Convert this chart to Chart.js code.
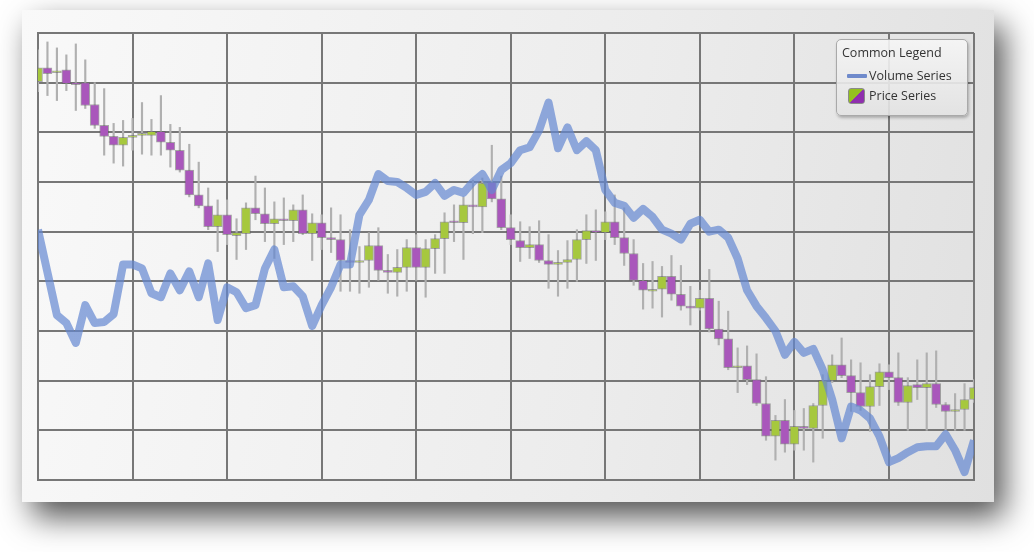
<!DOCTYPE html>
<html>
<head>
<meta charset="utf-8">
<script src="https://cdn.jsdelivr.net/npm/chart.js@4/dist/chart.umd.min.js"></script>
<style>
    html, body { margin: 0; padding: 0; background: #fff; }
    #stage { position: relative; width: 1034px; height: 552px; overflow: hidden; }
    #panel {
        position: absolute; left: 22px; top: 10px; width: 972px; height: 492px;
        background: linear-gradient(100deg, #f9f9f9 0%, #ececec 60%, #e0e0e0 100%);
        box-shadow: 10px 15px 30px rgba(0, 0, 0, 0.68);
    }
    #chart { position: absolute; left: 0; top: 0; }
    #legend {
        position: absolute; left: 836px; top: 39px; width: 130px; height: 75px;
        border: 1px solid #a9a9a9; border-radius: 5px;
        background: linear-gradient(180deg, rgba(245,245,245,0.9), rgba(226,226,226,0.9));
        box-shadow: 1px 2px 3px rgba(0, 0, 0, 0.25);
        font-family: "Open Sans", "Noto Sans", sans-serif; font-size: 12.5px; color: #333;
    }
    #legend .title { position: absolute; left: 5px; top: 5px; line-height: 16px; white-space: nowrap; }
    #legend .item { position: absolute; left: 0; height: 20px; line-height: 20px; white-space: nowrap; }
    #legend .item span.text { position: absolute; left: 32px; top: 0; }
    #legend .swatch-line { position: absolute; left: 10px; top: 8px; width: 20px; height: 4px; background: #6f8acb; border-radius: 1px; }
    #legend .swatch-box {
        position: absolute; left: 11px; top: 2px; width: 17px; height: 16px; border-radius: 3px;
        border: 1px solid #8a8a8a; box-sizing: border-box;
        background: linear-gradient(to bottom right, #94c020 50%, #8f2fae 50%);
    }
</style>
</head>
<body>
<div id="stage">
    <div id="panel"></div>
    <canvas id="chart" width="1034" height="552"></canvas>
    <div id="legend">
        <div class="title">Common Legend</div>
    </div>
</div>
<script>
// 交易日序号（类目轴）
const days = Array.from({ length: 100 }, (_, i) => i + 1);

// 价格（开 / 高 / 低 / 收）
const openPrices = [
    401, 415, 410, 413, 400, 400, 378, 357, 346, 337,
    345, 347, 347, 351, 340, 332, 312, 287, 276, 255,
    267, 246, 248, 274, 268, 258, 263, 261, 272, 248,
    259, 244, 242, 221, 219, 221, 236, 211, 209, 214,
    234, 214, 233, 243, 261, 259, 277, 275, 300, 283,
    254, 241, 234, 237, 221, 217, 219, 222, 242, 251,
    249, 260, 244, 228, 201, 190, 192, 205, 187, 175,
    173, 183, 152, 142, 113, 115, 101, 77, 44, 60,
    36, 54, 52, 75, 100, 116, 105, 88, 74, 94,
    109, 103, 78, 96, 93, 97, 76, 69, 71, 81
];
const highPrices = [
    433, 441, 435, 428, 439, 423, 400, 394, 359, 362,
    364, 380, 363, 387, 358, 355, 338, 320, 294, 282,
    282, 263, 279, 306, 294, 280, 284, 277, 287, 268,
    267, 274, 267, 252, 235, 249, 254, 227, 232, 242,
    247, 242, 247, 269, 277, 285, 302, 304, 337, 306,
    267, 260, 255, 261, 247, 231, 241, 252, 267, 272,
    270, 287, 274, 242, 218, 220, 215, 226, 216, 195,
    191, 212, 180, 170, 133, 135, 127, 104, 65, 81,
    70, 72, 77, 106, 126, 143, 121, 118, 106, 117,
    116, 128, 103, 121, 128, 130, 78, 87, 97, 101
];
const lowPrices = [
    391, 387, 382, 392, 372, 374, 354, 327, 319, 316,
    332, 328, 327, 327, 315, 310, 285, 274, 252, 230,
    237, 222, 232, 262, 240, 223, 237, 240, 247, 221,
    232, 229, 190, 190, 188, 194, 201, 188, 185, 190,
    201, 184, 208, 208, 240, 222, 248, 249, 280, 252,
    237, 220, 223, 219, 193, 185, 193, 200, 218, 221,
    242, 237, 216, 196, 172, 173, 164, 181, 171, 156,
    171, 149, 136, 111, 88, 96, 75, 40, 20, 28,
    30, 30, 18, 42, 98, 103, 69, 70, 49, 75,
    91, 75, 50, 81, 50, 73, 50, 50, 50, 78
];
const closePrices = [
    415, 409, 412, 399, 398, 377, 357, 346, 337, 345,
    347, 349, 351, 340, 332, 312, 287, 276, 255, 267,
    247, 249, 274, 268, 258, 263, 261, 272, 248, 259,
    244, 242, 221, 219, 221, 236, 211, 209, 214, 234,
    214, 233, 243, 260, 259, 277, 275, 299, 283, 254,
    242, 234, 237, 221, 217, 219, 222, 242, 251, 249,
    260, 244, 228, 201, 191, 192, 205, 187, 175, 173,
    183, 152, 142, 113, 115, 101, 77, 44, 60, 36,
    54, 52, 75, 100, 116, 105, 88, 74, 94, 109,
    103, 78, 95, 93, 97, 76, 69, 71, 81, 93
];

// 成交量
const volumeSeries = [
    252, 209, 166, 158, 138, 176, 158, 159, 167, 217,
    217, 213, 188, 184, 208, 191, 210, 184, 218, 161,
    194, 189, 173, 176, 213, 232, 194, 195, 185, 155,
    176, 194, 217, 217, 267, 282, 308, 301, 300, 294,
    287, 290, 299, 286, 292, 289, 300, 308, 292, 312,
    319, 332, 335, 352, 380, 334, 355, 332, 341, 332,
    292, 279, 276, 264, 273, 265, 252, 248, 242, 258,
    262, 250, 252, 244, 223, 191, 175, 163, 150, 126,
    139, 128, 132, 111, 81, 42, 74, 70, 62, 44,
    18, 22, 28, 33, 34, 34, 46, 30, 8, 40
];

const seriesNames = ['Volume Series', 'Price Series'];

const colors = {
    up: '#a6c83e',
    down: '#a957bb',
    bodyBorder: 'rgba(90, 90, 90, 0.5)',
    wick: '#b0b0b0',
    volume: 'rgba(100, 135, 210, 0.7)',
    grid: '#777777'
};

const bodyColors = openPrices.map((o, i) => closePrices[i] >= o ? colors.up : colors.down);

const ctx = document.getElementById('chart');

new Chart(ctx, {
    type: 'bar',
    data: {
        labels: days,
        datasets: [
            {
                type: 'line',
                label: seriesNames[0],
                data: volumeSeries,
                yAxisID: 'yVolume',
                borderColor: colors.volume,
                borderWidth: 8,
                borderJoinStyle: 'round',
                pointRadius: 0,
                tension: 0,
                clip: 0,
                order: 0
            },
            {
                label: seriesNames[1],
                data: openPrices.map((o, i) => [o, closePrices[i]]),
                backgroundColor: bodyColors,
                borderColor: colors.bodyBorder,
                borderWidth: 1,
                borderSkipped: false,
                minBarLength: 2,
                grouped: false,
                barThickness: 9,
                clip: 0,
                order: 1
            },
            {
                label: seriesNames[1] + ' range',
                data: lowPrices.map((l, i) => [l, highPrices[i]]),
                backgroundColor: colors.wick,
                borderWidth: 0,
                barThickness: 1.5,
                grouped: false,
                clip: 0,
                order: 2
            }
        ]
    },
    options: {
        responsive: false,
        animation: false,
        events: [],
        layout: {
            padding: { left: 38, top: 33, right: 60, bottom: 72 }
        },
        plugins: {
            legend: { display: false },
            tooltip: { enabled: false }
        },
        scales: {
            x: {
                type: 'category',
                offset: false,
                ticks: { display: false, autoSkip: false },
                grid: {
                    offset: false,
                    drawTicks: false,
                    lineWidth: 2,
                    color: c => (c.index % 10 === 0 || c.index === days.length - 1) ? colors.grid : 'rgba(0,0,0,0)'
                },
                border: { display: true, color: colors.grid, width: 2 }
            },
            y: {
                min: 0,
                max: 450,
                ticks: { display: false, stepSize: 50 },
                grid: { drawTicks: false, lineWidth: 2, color: colors.grid },
                border: { display: true, color: colors.grid, width: 2 }
            },
            yVolume: {
                display: false,
                min: 0,
                max: 450
            }
        }
    }
});

// 图例
const legend = document.getElementById('legend');
seriesNames.forEach((name, i) => {
    const item = document.createElement('div');
    item.className = 'item';
    item.style.top = (26 + i * 20) + 'px';
    const sw = document.createElement('span');
    sw.className = i === 0 ? 'swatch-line' : 'swatch-box';
    const text = document.createElement('span');
    text.className = 'text';
    text.textContent = name;
    item.appendChild(sw);
    item.appendChild(text);
    legend.appendChild(item);
});
</script>
</body>
</html>
